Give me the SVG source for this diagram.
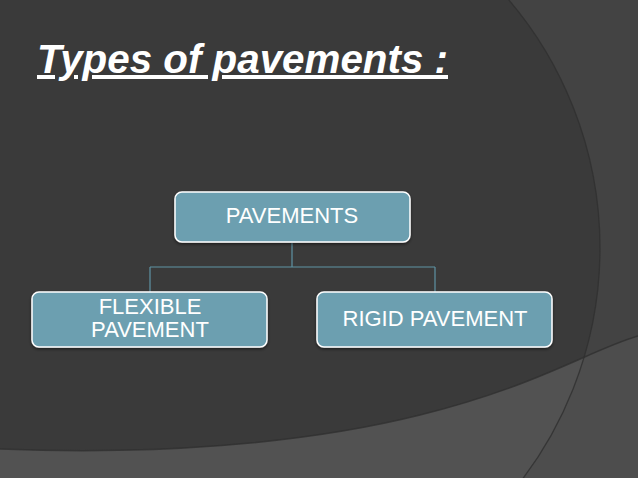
<svg xmlns="http://www.w3.org/2000/svg" width="638" height="478" viewBox="0 0 638 478">
  <defs>
    <clipPath id="inCircle"><circle cx="217" cy="248" r="383"/></clipPath>
    <filter id="shadow" x="-10%" y="-20%" width="120%" height="150%">
      <feDropShadow dx="0" dy="1.5" stdDeviation="1.5" flood-color="#000" flood-opacity="0.5"/>
    </filter>
    <style>
      .box { fill: #6c9fb0; stroke: #ffffff; stroke-width: 1.5; filter: url(#shadow); }
      .lbl { font-family: "Liberation Sans", Arial, sans-serif; font-size: 22px; fill: #ffffff; text-anchor: middle; }
      .conn { fill: none; stroke: #5e93a4; stroke-width: 1.2; }
      .title { font-family: "Liberation Sans", Arial, sans-serif; font-size: 40px; font-weight: bold; font-style: italic; fill: #ffffff; text-decoration: underline; }
    </style>
  </defs>

  <!-- background -->
  <rect x="0" y="0" width="638" height="478" fill="#434343"/>
  <circle cx="217" cy="248" r="383" fill="#3a3a3a"/>
  <path d="M0,449 C150,455 300,445 420,415 S590,350 638,336 L638,478 L0,478 Z" fill="#4d4d4d"/>
  <path d="M0,449 C150,455 300,445 420,415 S590,350 638,336 L638,478 L0,478 Z" fill="#525252" clip-path="url(#inCircle)"/>
  <path d="M0,449 C150,455 300,445 420,415 S590,350 638,336" fill="none" stroke="#303030" stroke-width="1.5" opacity="0.8"/>
  <circle cx="217" cy="248" r="383" fill="none" stroke="#303030" stroke-width="1.3" opacity="0.8"/>

  <!-- title -->
  <text id="title" class="title" x="37" y="73" textLength="411" lengthAdjust="spacingAndGlyphs">Types of pavements :</text>

  <!-- connectors -->
  <g id="connectors">
    <path class="conn" d="M292,243 V267"/>
    <path class="conn" d="M150,267 H435"/>
    <path class="conn" d="M150,267 V292"/>
    <path class="conn" d="M435,267 V292"/>
  </g>

  <!-- nodes -->
  <g id="node-pavements">
    <rect class="box" x="175" y="192" width="235" height="50" rx="7"/>
    <text class="lbl" x="292" y="223">PAVEMENTS</text>
  </g>
  <g id="node-flexible">
    <rect class="box" x="32" y="292" width="235" height="55" rx="7"/>
    <text class="lbl" x="150" y="314">FLEXIBLE</text>
    <text class="lbl" x="150" y="337">PAVEMENT</text>
  </g>
  <g id="node-rigid">
    <rect class="box" x="317" y="292" width="235" height="55" rx="7"/>
    <text class="lbl" x="435" y="326">RIGID PAVEMENT</text>
  </g>
</svg>
